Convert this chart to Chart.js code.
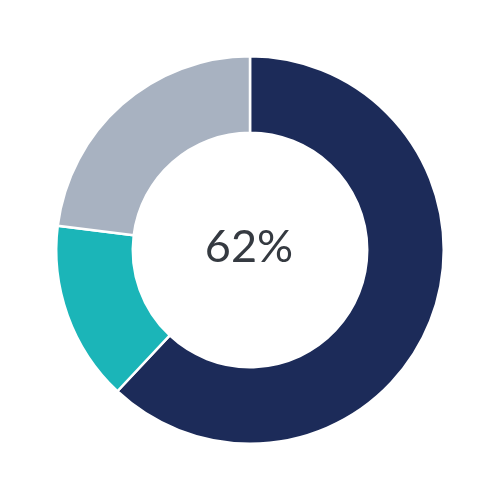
<!DOCTYPE html>
<html>
<head>
<meta charset="utf-8">
<script src="https://cdn.jsdelivr.net/npm/chart.js@4"></script>
<style>
  html, body { margin: 0; padding: 0; background: #fff; }
  #wrap { width: 500px; height: 500px; }
</style>
</head>
<body>
<div id="wrap"><canvas id="c"></canvas></div>
<script>
  // Anteile im Ring (im Uhrzeigersinn ab 12 Uhr)
  var labels = ['Anteil', 'Teil B', 'Teil C'];
  var values = [62, 15, 23];
  var colors = ['#1c2b59', '#1bb5b8', '#a8b2c1'];
  var centerText = '62%';

  // Text in der Mitte des Rings
  var centerLabel = {
    id: 'centerLabel',
    afterDraw: function (chart) {
      var ctx = chart.ctx, a = chart.chartArea;
      ctx.save();
      ctx.font = '400 45px Lato, "Open Sans", sans-serif';
      ctx.fillStyle = '#353a41';
      ctx.textAlign = 'center';
      ctx.textBaseline = 'alphabetic';
      ctx.fillText(centerText, (a.left + a.right) / 2 - 1, (a.top + a.bottom) / 2 + 12);
      ctx.restore();
    }
  };

  new Chart(document.getElementById('c').getContext('2d'), {
    type: 'doughnut',
    data: {
      labels: labels,
      datasets: [{ data: values, backgroundColor: colors, borderColor: '#fff', borderWidth: 2.5, hoverOffset: 0 }]
    },
    options: {
      responsive: true, maintainAspectRatio: false, animation: false,
      cutout: '60.5%',
      layout: { padding: 55 },
      plugins: { legend: { display: false }, tooltip: { enabled: false } }
    },
    plugins: [centerLabel]
  });
</script>
</body>
</html>
